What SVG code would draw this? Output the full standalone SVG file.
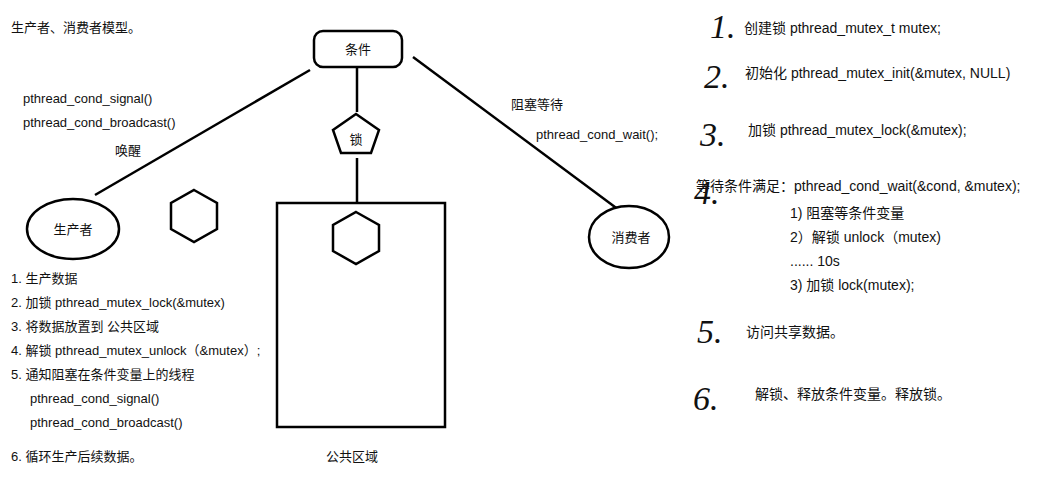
<svg xmlns="http://www.w3.org/2000/svg" width="1062" height="501" viewBox="0 0 1062 501">
<style>
text{font-family:"Liberation Sans","Noto Sans CJK SC",sans-serif;font-size:13px;fill:#111}
.r{font-size:14px}
.s{fill:#fff;stroke:#000;stroke-width:2.5}
.l{stroke:#000;stroke-width:2.5;fill:none}
.n{font-family:"Liberation Serif","Noto Sans CJK SC",serif;font-size:34px;font-style:italic}
</style>
<rect width="1062" height="501" fill="#fff"/>
<g id="connectors">
<line class="l" x1="310" y1="70" x2="95" y2="195"/>
<line class="l" x1="413" y1="57" x2="619" y2="210"/>
<line class="l" x1="357" y1="66" x2="357" y2="112"/>
<line class="l" x1="357" y1="158" x2="357" y2="204"/>
</g>
<g id="cond"><rect class="s" x="314" y="31" width="88" height="36" rx="9"/><text x="358" y="54" text-anchor="middle">条件</text></g>
<g id="lock"><polygon class="s" points="356,114 379,130 371,153 341,153 333,130"/><text x="356" y="144" text-anchor="middle">锁</text></g>
<g id="shared"><rect class="s" x="277" y="203" width="168" height="224"/></g>
<g id="hex1"><polygon class="s" points="356,212 379,225 379,251 356,264 333,251 333,225"/></g>
<g id="hex2"><polygon class="s" points="194,190 217,203 217,229 194,242 171,229 171,203"/></g>
<g id="producer"><ellipse class="s" cx="73" cy="229" rx="46" ry="30"/><text x="73" y="234" text-anchor="middle">生产者</text></g>
<g id="consumer"><ellipse class="s" cx="629" cy="237" rx="40" ry="31"/><text x="631" y="242" text-anchor="middle">消费者</text></g>
<text x="11" y="32">生产者、消费者模型。</text>
<text x="23" y="103">pthread_cond_signal()</text>
<text x="23" y="127">pthread_cond_broadcast()</text>
<text x="115" y="155">唤醒</text>
<text x="511" y="109">阻塞等待</text>
<text x="536" y="139">pthread_cond_wait();</text>
<text x="11" y="283">1. 生产数据</text>
<text x="11" y="307">2. 加锁 pthread_mutex_lock(&amp;mutex)</text>
<text x="11" y="331">3. 将数据放置到 公共区域</text>
<text x="11" y="355">4. 解锁 pthread_mutex_unlock（&amp;mutex）;</text>
<text x="11" y="379">5. 通知阻塞在条件变量上的线程</text>
<text x="30" y="403">pthread_cond_signal()</text>
<text x="30" y="427">pthread_cond_broadcast()</text>
<text x="11" y="461">6. 循环生产后续数据。</text>
<text x="326" y="461">公共区域</text>
<text class="n" x="710" y="38">1.</text>
<text class="n" x="704" y="88">2.</text>
<text class="n" x="700" y="146">3.</text>
<text class="n" x="694" y="204">4.</text>
<text class="n" x="697" y="343">5.</text>
<text class="n" x="693" y="410">6.</text>
<text class="r" x="744" y="33">创建锁  pthread_mutex_t mutex;</text>
<text class="r" x="745" y="78">初始化 pthread_mutex_init(&amp;mutex, NULL)</text>
<text class="r" x="748" y="135">加锁 pthread_mutex_lock(&amp;mutex);</text>
<text class="r" x="696" y="191">等待条件满足：pthread_cond_wait(&amp;cond, &amp;mutex);</text>
<text class="r" x="790" y="218">1) 阻塞等条件变量</text>
<text class="r" x="790" y="242">2）解锁 unlock（mutex)</text>
<text class="r" x="790" y="266">...... 10s</text>
<text class="r" x="790" y="290">3) 加锁 lock(mutex);</text>
<text class="r" x="746" y="337">访问共享数据。</text>
<text class="r" x="755" y="399">解锁、释放条件变量。释放锁。</text>
</svg>
